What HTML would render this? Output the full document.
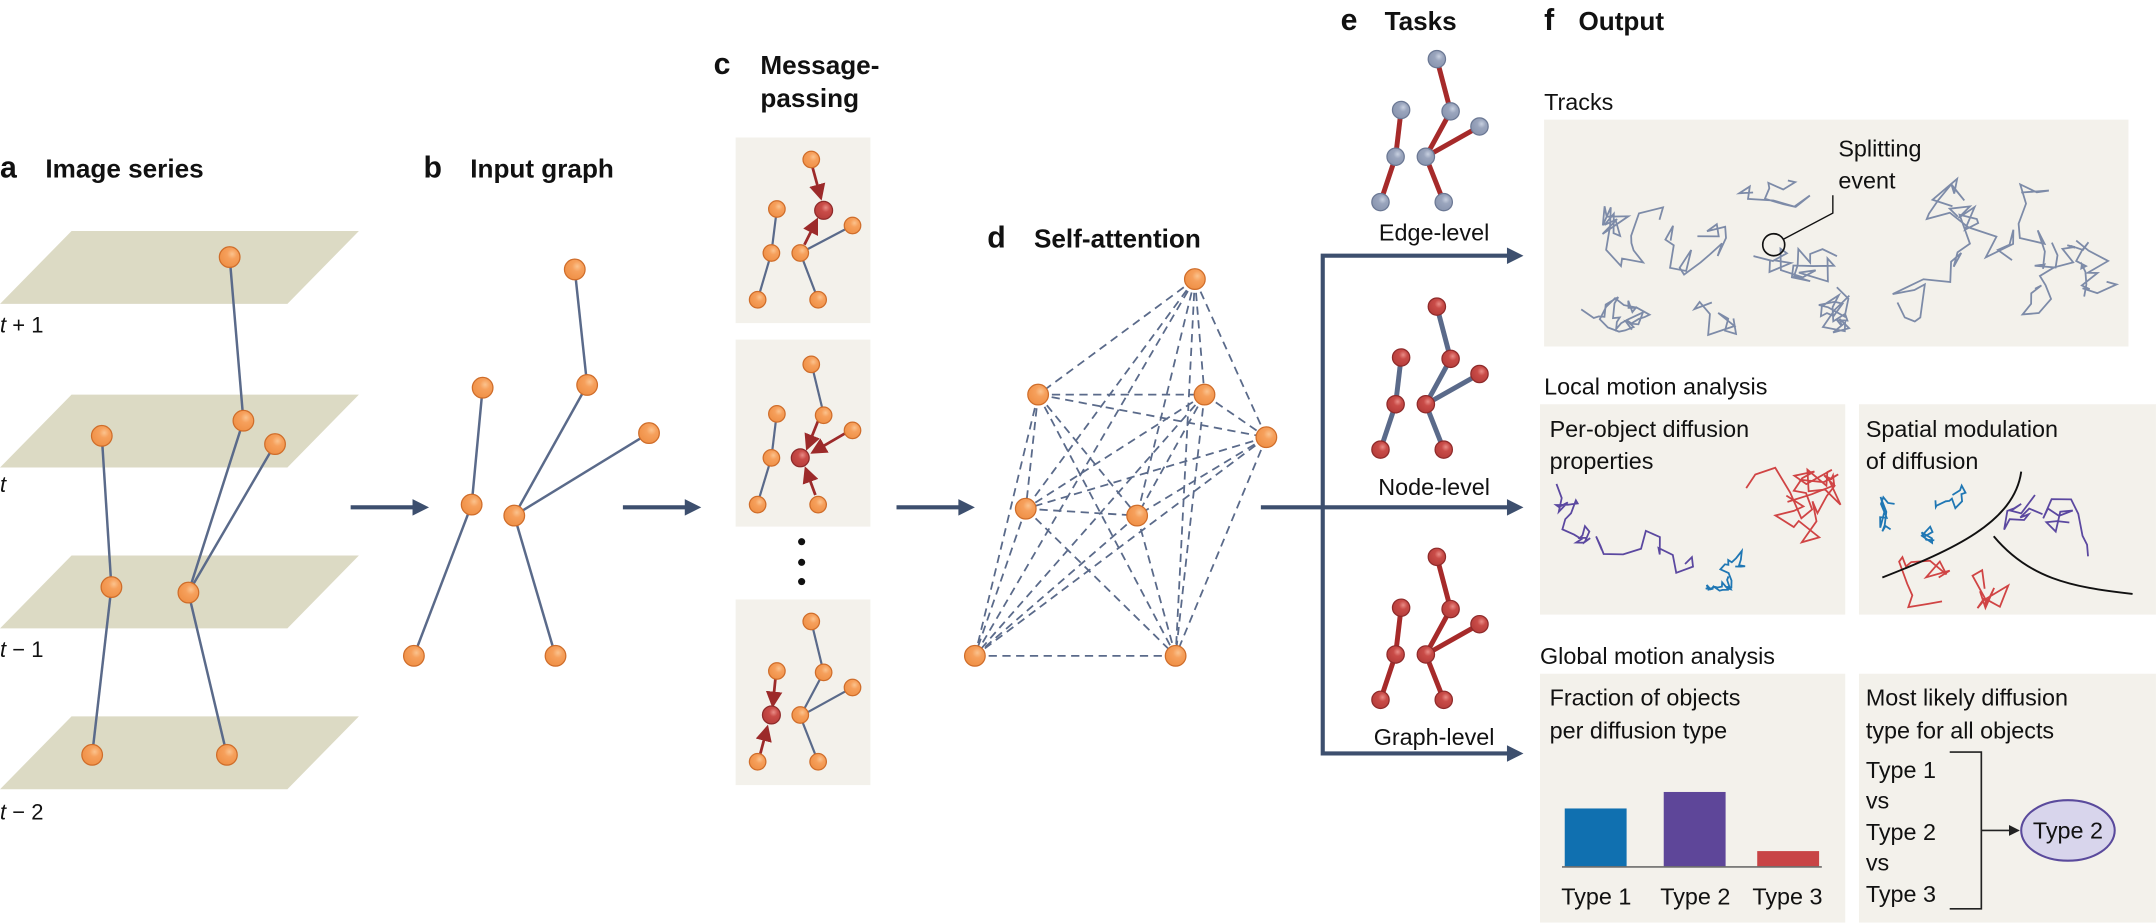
<!DOCTYPE html>
<html><head><meta charset="utf-8">
<style>
html,body{margin:0;padding:0;background:#fff;}
svg{display:block;}
text{font-family:"Liberation Sans",sans-serif;fill:#111;}
.t{font-weight:bold;font-size:19px;}
.l{font-size:17px;}
</style></head>
<body>
<svg id="s" width="2156" height="923" viewBox="0 0 1568 671.3" xmlns="http://www.w3.org/2000/svg">
<defs>
<radialGradient id="og" cx="0.62" cy="0.35" r="0.7"><stop offset="0" stop-color="#fbc38e"/><stop offset="0.35" stop-color="#f6a05c"/><stop offset="1" stop-color="#ef8f45"/></radialGradient>
<radialGradient id="rg" cx="0.62" cy="0.35" r="0.7"><stop offset="0" stop-color="#e98c86"/><stop offset="0.35" stop-color="#c94c48"/><stop offset="1" stop-color="#b53c3a"/></radialGradient>
<radialGradient id="gg" cx="0.62" cy="0.35" r="0.7"><stop offset="0" stop-color="#c8d0e0"/><stop offset="0.35" stop-color="#9aa5bd"/><stop offset="1" stop-color="#8894ae"/></radialGradient>
<marker id="rm" markerWidth="6" markerHeight="6" refX="5" refY="3" orient="auto" markerUnits="strokeWidth"><path d="M0,0 L6,3 L0,6 z" fill="#9c2a2a"/></marker>
<marker id="km" markerWidth="8" markerHeight="8" refX="7" refY="4" orient="auto" markerUnits="userSpaceOnUse"><path d="M0,0 L8,4 L0,8 z" fill="#222"/></marker>
</defs>

<text x="0" y="129" class="t" style="font-size:22px">a</text>
<text x="33" y="129" class="t">Image series</text>
<g fill="#dcdac4">
<polygon points="52,168 261,168 209,221 0,221"/>
<polygon points="52,287 261,287 209,340 0,340"/>
<polygon points="52,404 261,404 209,457 0,457"/>
<polygon points="52,521 261,521 209,574 0,574"/>
</g>
<g class="l" style="font-size:16px">
<text x="0" y="242"><tspan font-style="italic">t</tspan> + 1</text>
<text x="0" y="358" font-style="italic">t</text>
<text x="0" y="478"><tspan font-style="italic">t</tspan> − 1</text>
<text x="0" y="596"><tspan font-style="italic">t</tspan> − 2</text>
</g>
<g stroke="#5a6a8a" stroke-width="1.8">
<line x1="167" y1="187" x2="177" y2="306"/>
<line x1="74" y1="317" x2="81" y2="427"/>
<line x1="177" y1="306" x2="137" y2="431"/>
<line x1="200" y1="323" x2="137" y2="431"/>
<line x1="81" y1="427" x2="67" y2="549"/>
<line x1="137" y1="431" x2="165" y2="549"/>
</g>
<g id="an"></g>

<g stroke="#3d4f6e" stroke-width="3" fill="#3d4f6e">
<line x1="255" y1="369" x2="304" y2="369"/><polygon points="300,363 312,369 300,375" stroke="none"/>
<line x1="453" y1="369" x2="502" y2="369"/><polygon points="498,363 510,369 498,375" stroke="none"/>
<line x1="652" y1="369" x2="701" y2="369"/><polygon points="697,363 709,369 697,375" stroke="none"/>
<line x1="917" y1="369" x2="1100" y2="369"/><polygon points="1096,363 1108,369 1096,375" stroke="none"/>
<polyline points="1100,186 962,186 962,548 1100,548" fill="none"/>
<polygon points="1096,180 1108,186 1096,192" stroke="none"/>
<polygon points="1096,542 1108,548 1096,554" stroke="none"/>
</g>

<text x="308" y="129" class="t" style="font-size:22px">b</text>
<text x="342" y="129" class="t">Input graph</text>
<g stroke="#5a6a8a" stroke-width="1.8">
<line x1="418" y1="196" x2="427" y2="280"/>
<line x1="351" y1="282" x2="343" y2="367"/>
<line x1="427" y1="280" x2="374" y2="375"/>
<line x1="472" y1="315" x2="374" y2="375"/>
<line x1="343" y1="367" x2="301" y2="477"/>
<line x1="374" y1="375" x2="404" y2="477"/>
</g>

<text x="519" y="54" class="t" style="font-size:22px">c</text>
<text x="553" y="54" class="t">Message-</text>
<text x="553" y="78" class="t">passing</text>
<g fill="#f3f1eb">
<rect x="535" y="100" width="98" height="135"/>
<rect x="535" y="247" width="98" height="136"/>
<rect x="535" y="436" width="98" height="135"/>
</g>
<g fill="#111"><circle cx="583" cy="394" r="2.6"/><circle cx="583" cy="409" r="2.6"/><circle cx="583" cy="423" r="2.6"/></g>
<g stroke="#5a6a8a" stroke-width="1.6">
<line x1="565" y1="152" x2="561" y2="184"/><line x1="561" y1="184" x2="551" y2="218"/>
<line x1="582" y1="184" x2="620" y2="164"/><line x1="582" y1="184" x2="595" y2="218"/>
<line x1="590" y1="264" x2="599" y2="301"/>
<line x1="565" y1="300" x2="561" y2="333"/><line x1="561" y1="333" x2="551" y2="366"/>
<line x1="590" y1="452" x2="599" y2="489"/><line x1="599" y1="489" x2="582" y2="521"/>
<line x1="582" y1="521" x2="620" y2="500"/><line x1="582" y1="521" x2="595" y2="554"/>
</g>
<g stroke="#9c2a2a" stroke-width="2" marker-end="url(#rm)">
<line x1="591" y1="122" x2="597" y2="144"/>
<line x1="585" y1="178" x2="594" y2="160"/>
<line x1="595" y1="306" x2="587" y2="326"/>
<line x1="615" y1="315" x2="591" y2="329"/>
<line x1="593" y1="360" x2="586" y2="341"/>
<line x1="564" y1="493" x2="562" y2="513"/>
<line x1="553" y1="548" x2="558" y2="529"/>
</g>

<text x="718" y="180" class="t" style="font-size:22px">d</text>
<text x="752" y="180" class="t">Self-attention</text>
<g id="dd" stroke="#5a6a8a" stroke-width="1.3" stroke-dasharray="6,4"></g>

<text x="975" y="22" class="t" style="font-size:22px">e</text>
<text x="1007" y="22" class="t">Tasks</text>
<text x="1043" y="175" class="l" text-anchor="middle">Edge-level</text>
<text x="1043" y="360" class="l" text-anchor="middle">Node-level</text>
<text x="1043" y="542" class="l" text-anchor="middle">Graph-level</text>
<g id="ee"></g>

<text x="1123" y="22" class="t" style="font-size:22px">f</text>
<text x="1148" y="22" class="t">Output</text>
<text x="1123" y="80" class="l">Tracks</text>
<rect x="1123" y="87" width="425" height="165" fill="#f3f1eb"/>
<g id="tr" fill="none" stroke="#7d8ba8" stroke-width="1.3"></g>
<text x="1337" y="114" class="l">Splitting</text>
<text x="1337" y="137" class="l">event</text>
<circle cx="1290" cy="178" r="8" fill="none" stroke="#111" stroke-width="1.2"/>
<polyline points="1297,174 1333,155 1333,142" fill="none" stroke="#111" stroke-width="1"/>

<text x="1123" y="287" class="l">Local motion analysis</text>
<rect x="1120" y="294" width="222" height="153" fill="#f3f1eb"/>
<rect x="1352" y="294" width="216" height="153" fill="#f3f1eb"/>
<text x="1127" y="318" class="l">Per-object diffusion</text>
<text x="1127" y="341" class="l">properties</text>
<text x="1357" y="318" class="l">Spatial modulation</text>
<text x="1357" y="341" class="l">of diffusion</text>
<g id="lm" fill="none" stroke-width="1.3"></g>
<path d="M1369,420 C1420,400 1465,380 1470,343" fill="none" stroke="#111" stroke-width="1.4"/>
<path d="M1450,390 C1475,420 1505,427 1551,432" fill="none" stroke="#111" stroke-width="1.4"/>

<text x="1120" y="483" class="l">Global motion analysis</text>
<rect x="1120" y="490" width="222" height="181" fill="#f3f1eb"/>
<rect x="1352" y="490" width="216" height="181" fill="#f3f1eb"/>
<text x="1127" y="513" class="l">Fraction of objects</text>
<text x="1127" y="537" class="l">per diffusion type</text>
<text x="1357" y="513" class="l">Most likely diffusion</text>
<text x="1357" y="537" class="l">type for all objects</text>
<rect x="1138" y="588" width="45" height="42" fill="#1070b0"/>
<rect x="1210" y="576" width="45" height="54" fill="#5e4699"/>
<rect x="1278" y="619" width="45" height="11" fill="#c84446"/>
<line x1="1136" y1="630.5" x2="1325" y2="630.5" stroke="#555" stroke-width="1"/>
<text x="1161" y="658" class="l" text-anchor="middle">Type 1</text>
<text x="1233" y="658" class="l" text-anchor="middle">Type 2</text>
<text x="1300" y="658" class="l" text-anchor="middle">Type 3</text>
<text x="1357" y="566" class="l">Type 1</text>
<text x="1357" y="588" class="l">vs</text>
<text x="1357" y="611" class="l">Type 2</text>
<text x="1357" y="633" class="l">vs</text>
<text x="1357" y="656" class="l">Type 3</text>
<polyline points="1418,547 1441,547 1441,661 1418,661" fill="none" stroke="#222" stroke-width="1.2"/>
<line x1="1441" y1="604" x2="1468" y2="604" stroke="#222" stroke-width="1.2" marker-end="url(#km)"/>
<ellipse cx="1504" cy="604" rx="34" ry="22" fill="#d8d5ec" stroke="#5a4a9c" stroke-width="1.5"/>
<text x="1504" y="610" class="l" text-anchor="middle">Type 2</text>
</svg>
<script>
(function(){
var NS="http://www.w3.org/2000/svg";
function el(p,t,a){var e=document.createElementNS(NS,t);for(var k in a)e.setAttribute(k,a[k]);p.appendChild(e);return e;}
function g(id){return document.getElementById(id);}
var svg=g("s");
function node(p,x,y,r,type){
 var f={o:"url(#og)",r:"url(#rg)",g:"url(#gg)"}[type];
 var s={o:"#cf6d2a",r:"#8e2a2a",g:"#6b7894"}[type];
 el(p,"circle",{cx:x,cy:y,r:r,fill:f,stroke:s,"stroke-width":0.9});
}
var an=g("an");
[[167,187],[177,306],[74,317],[200,323],[81,427],[137,431],[67,549],[165,549]].forEach(function(p){node(an,p[0],p[1],7.5,"o");});
[[418,196],[427,280],[351,282],[472,315],[343,367],[374,375],[301,477],[404,477]].forEach(function(p){node(svg,p[0],p[1],7.5,"o");});
var base=[[590,116],[599,153],[565,152],[620,164],[561,184],[582,184],[551,218],[595,218]];
var offs=[0,149,336], reds=[1,5,4];
offs.forEach(function(o,i){base.forEach(function(p,j){node(svg,p[0],p[1]+o,j==reds[i]?6.5:6,j==reds[i]?"r":"o");});});
var dn=[[869,203],[755,287],[876,287],[921,318],[746,370],[827,375],[709,477],[855,477]];
var dd=g("dd");
for(var i=0;i<dn.length;i++)for(var j=i+1;j<dn.length;j++)el(dd,"line",{x1:dn[i][0],y1:dn[i][1],x2:dn[j][0],y2:dn[j][1]});
dn.forEach(function(p){node(svg,p[0],p[1],7.5,"o");});
var en=[[1045,223],[1019,260],[1055,261],[1076,272],[1015,294],[1037,294],[1004,327],[1050,327]];
var ee=[[0,2],[2,5],[3,5],[5,7],[1,4],[4,6]];
var ee_g=g("ee");
[[-180,"#a62a2a","g"],[0,"#5a6a8a","r"],[182,"#a62a2a","r"]].forEach(function(c){
 ee.forEach(function(e){el(ee_g,"line",{x1:en[e[0]][0],y1:en[e[0]][1]+c[0],x2:en[e[1]][0],y2:en[e[1]][1]+c[0],stroke:c[1],"stroke-width":3.6});});
 en.forEach(function(p){node(ee_g,p[0],p[1]+c[0],6.3,c[2]);});
});
var seed=12345;function r(){seed=(seed*16807)%2147483647;return seed/2147483647;}
function walk(p,x,y,n,s,b,col,dx,dy){
 dx=dx||0;dy=dy||0;
 var pts=[[x,y]];
 for(var i=0;i<n;i++){var a=r()*6.283,d=s*(0.4+r());x+=Math.cos(a)*d+dx;y+=Math.sin(a)*d+dy;
  if(x<b[0])x=2*b[0]-x;if(x>b[2])x=2*b[2]-x;if(y<b[1])y=2*b[1]-y;if(y>b[3])y=2*b[3]-y;
  pts.push([x.toFixed(1),y.toFixed(1)]);}
 var a2={points:pts.join(" ")};if(col)a2.stroke=col;el(p,"polyline",a2);
}
var tr=g("tr");
var tb=[1135,125,1542,245];
walk(tr,1150,225,35,9,[1135,190,1200,245]);
walk(tr,1175,160,22,16,[1165,150,1255,230],null,2,1.5);
walk(tr,1215,175,18,14,[1205,160,1260,210]);
walk(tr,1245,220,10,16,[1230,190,1275,245]);
walk(tr,1275,140,14,14,[1260,130,1320,210],null,0,2);
walk(tr,1290,190,25,14,[1275,180,1380,245],null,3,0);
walk(tr,1345,215,25,12,[1320,190,1400,245]);
walk(tr,1380,220,22,16,[1360,150,1440,240],null,2,-2);
walk(tr,1420,150,18,16,[1400,130,1470,210],null,2,0);
walk(tr,1470,140,15,16,[1450,125,1530,200]);
walk(tr,1480,210,25,12,[1455,175,1520,245]);
walk(tr,1510,175,10,14,[1495,160,1540,215]);
var lm=g("lm");
walk(lm,1132,352,22,7,[1130,345,1175,395],"#5b48a0",1,1);
walk(lm,1165,400,14,10,[1160,385,1232,425],"#5b48a0",3,0);
walk(lm,1270,355,22,16,[1225,340,1340,410],"#d04444");
walk(lm,1300,365,18,14,[1265,342,1338,395],"#d04444");
walk(lm,1262,412,35,5,[1240,400,1295,430],"#1f77b4");
walk(lm,1375,385,14,9,[1367,360,1400,408],"#1f77b4",0,-1);
walk(lm,1400,390,8,7,[1395,375,1415,402],"#1f77b4");
walk(lm,1420,360,12,6,[1405,352,1440,370],"#1f77b4");
walk(lm,1410,420,14,14,[1380,400,1480,443],"#d04444",1,0);
walk(lm,1440,430,12,14,[1420,405,1520,443],"#d04444",2,0);
walk(lm,1480,360,12,12,[1455,350,1510,430],"#5b48a0");
walk(lm,1505,380,14,12,[1485,350,1545,420],"#5b48a0");
})();
</script>
</body></html>
